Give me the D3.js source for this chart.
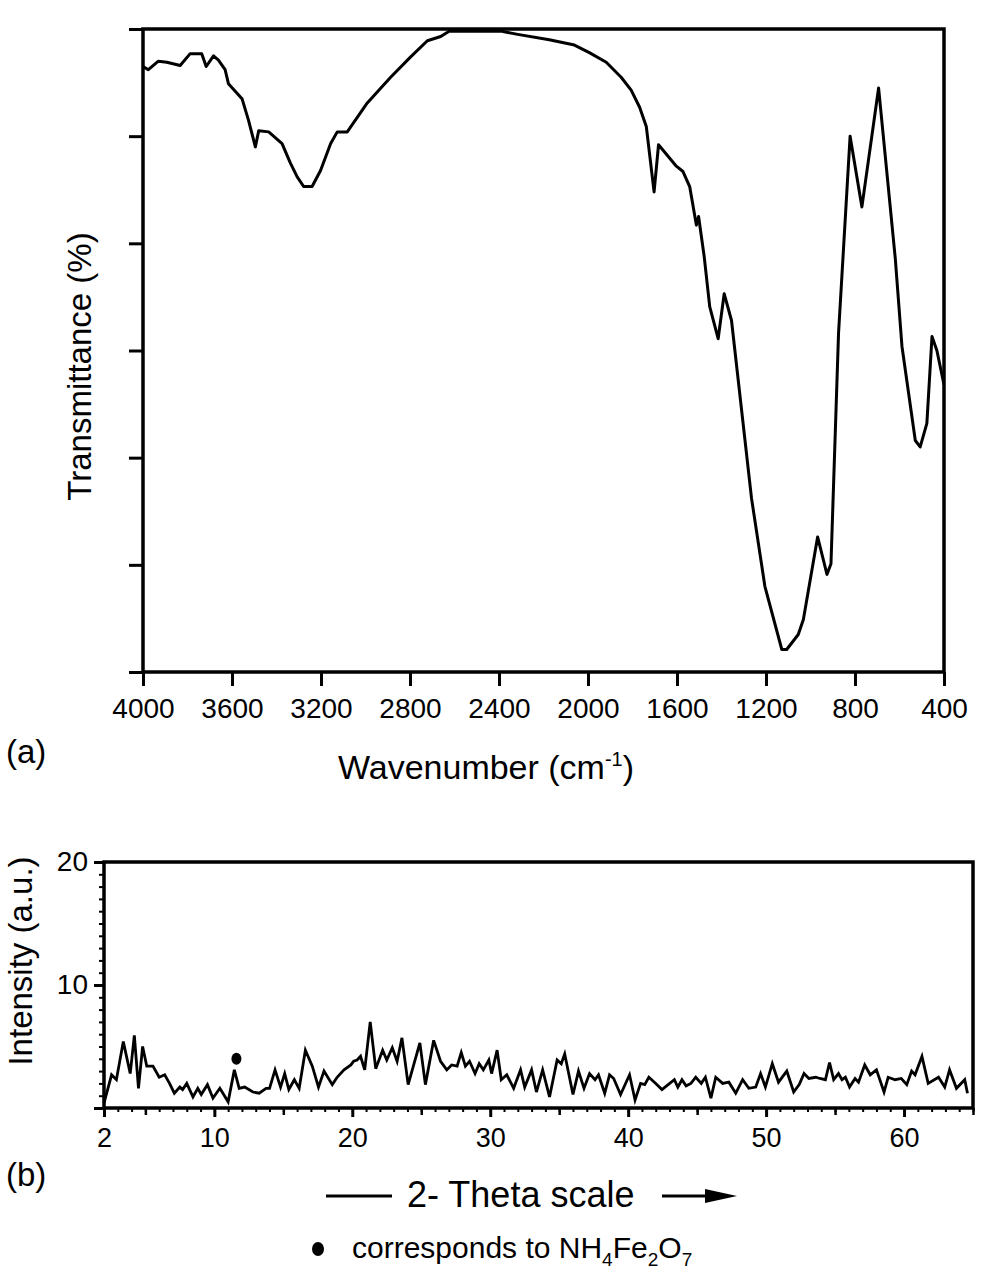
<!DOCTYPE html>
<html>
<head>
<meta charset="utf-8">
<script src="https://cdn.jsdelivr.net/npm/d3@7/dist/d3.min.js"></script>
<style>
  body { margin: 0; background: #fff; }
  svg { display: block; }
  text { font-family: "Liberation Sans", Arial, Helvetica, sans-serif; fill: #000; }
</style>
</head>
<body>
<div id="chart"></div>
<script>
// (a) IR spectrum
const IR_WAVENUMBER = [4000, 3976, 3931, 3893, 3833, 3788, 3736, 3716, 3683, 3661, 3631, 3616, 3555, 3526,
  3495, 3480, 3435, 3375, 3338, 3307, 3278, 3240, 3202, 3157, 3127, 3082, 2992, 2887, 2797, 2722, 2662,
  2624, 2392, 2316, 2174, 2061, 1994, 1918, 1851, 1806, 1768, 1738, 1703, 1683, 1603, 1573, 1543, 1513,
  1503, 1478, 1453, 1415, 1388, 1355, 1265, 1205, 1129, 1107, 1055, 1032, 968, 926, 908, 874, 822, 769,
  694, 619, 589, 529, 507, 477, 454, 432, 400];
const IR_TRANSMITTANCE = [56.5, 56.2, 57.0, 56.9, 56.6, 57.7, 57.7, 56.5, 57.5, 57.1, 56.2, 54.9, 53.5, 51.5,
  49.0, 50.5, 50.4, 49.3, 47.5, 46.2, 45.3, 45.3, 46.8, 49.3, 50.4, 50.4, 53.1, 55.5, 57.4, 58.9, 59.3,
  59.8, 59.8, 59.5, 59.0, 58.5, 57.8, 56.9, 55.5, 54.3, 52.7, 50.9, 44.8, 49.2, 47.2, 46.7, 45.3, 41.7,
  42.5, 38.8, 34.1, 31.1, 35.3, 32.8, 16.2, 8.0, 2.1, 2.1, 3.5, 4.9, 12.6, 9.1, 10.1, 31.6, 50.0, 43.4,
  54.5, 38.6, 30.4, 21.6, 21.0, 23.2, 31.3, 30.0, 26.8];
const IR_X_TICKS = [4000, 3600, 3200, 2800, 2400, 2000, 1600, 1200, 800, 400];
const IR_Y_TICKS = [0, 10, 20, 30, 40, 50, 60];

// (b) XRD pattern
const XRD_THETA = [2.0, 2.55, 2.9, 3.4, 3.9, 4.2, 4.5, 4.8, 5.1, 5.55, 6.0, 6.4, 6.75, 7.1, 7.5, 7.7, 8.0,
  8.45, 8.8, 9.05, 9.5, 9.9, 10.4, 11.0, 11.45, 11.8, 12.2, 12.8, 13.25, 13.75, 14.0, 14.4, 14.8, 15.1,
  15.4, 15.8, 16.15, 16.6, 17.1, 17.55, 17.95, 18.55, 18.9, 19.4, 19.9, 20.1, 20.35, 20.6, 20.9, 21.3,
  21.7, 22.2, 22.5, 22.9, 23.25, 23.6, 24.05, 24.9, 25.3, 25.9, 26.4, 26.85, 27.2, 27.6, 27.9, 28.2, 28.5,
  28.9, 29.2, 29.5, 29.9, 30.1, 30.5, 30.8, 31.2, 31.7, 32.2, 32.5, 33.0, 33.35, 33.8, 34.3, 34.85,
  35.15, 35.4, 36.0, 36.4, 36.8, 37.2, 37.6, 37.85, 38.3, 38.65, 38.95, 39.45, 40.1, 40.5, 40.9, 41.2,
  41.5, 42.0, 42.45, 42.9, 43.35, 43.6, 43.9, 44.2, 44.55, 44.9, 45.3, 45.6, 46.0, 46.35, 46.85, 47.3,
  47.8, 48.3, 48.75, 49.25, 49.6, 49.95, 50.45, 50.9, 51.5, 52.0, 52.4, 52.75, 53.1, 53.6, 53.9, 54.3,
  54.6, 54.9, 55.25, 55.5, 55.75, 56.05, 56.45, 56.7, 57.15, 57.55, 58.0, 58.55, 58.85, 59.35, 59.8,
  60.2, 60.55, 60.8, 61.3, 61.75, 62.5, 62.95, 63.3, 63.8, 64.4, 64.6];
const XRD_INTENSITY = [0.4, 2.7, 2.3, 5.4, 2.8, 5.9, 1.6, 5.0, 3.4, 3.4, 2.5, 2.7, 2.0, 1.2, 1.7, 1.5, 2.0,
  0.9, 1.6, 1.1, 1.9, 0.8, 1.6, 0.5, 3.1, 1.6, 1.7, 1.3, 1.2, 1.6, 1.6, 3.1, 1.7, 2.8,
  1.5, 2.3, 1.6, 4.7, 3.4, 1.7, 3.0, 1.9, 2.5, 3.1, 3.5, 3.8, 3.9, 4.2, 3.1, 7.0,
  3.2, 4.7, 3.9, 4.9, 3.8, 5.7, 1.9, 5.3, 1.9, 5.5, 3.8, 3.1, 3.5, 3.4, 4.5, 3.4, 3.8,
  2.8, 3.6, 3.1, 3.9, 2.8, 4.7, 2.3, 2.7, 1.6, 3.1, 1.7, 3.1, 1.3, 3.1, 0.9, 3.9,
  3.6, 4.4, 1.1, 3.0, 1.6, 2.8, 2.3, 2.7, 1.2, 2.7, 2.4, 1.1, 2.7, 0.65, 2.0, 1.9,
  2.5, 2.0, 1.5, 1.9, 2.3, 1.7, 2.3, 1.8, 2.0, 2.5, 2.0, 2.5, 0.8, 2.5, 2.0, 2.1,
  1.2, 2.3, 1.6, 1.7, 2.8, 1.7, 3.6, 2.1, 3.0, 1.3, 1.9, 2.8, 2.4, 2.5, 2.4, 2.3,
  3.7, 2.3, 2.8, 2.3, 2.5, 1.7, 2.4, 2.1, 3.5, 2.7, 3.1, 1.3, 2.5, 2.3, 2.4,
  1.9, 3.0, 2.7, 4.2, 2.0, 2.5, 1.7, 3.1, 1.6, 2.3, 1.2];
const XRD_X_TICKS = [2, 10, 20, 30, 40, 50, 60];
const XRD_Y_TICKS = [0, 10, 20];
const PHASE_MARKS = [{ theta: 11.6, intensity: 4.0 }];

const W = 1002, H = 1275;
const FONT_TICK = 28, FONT_TITLE = 33;

const svg = d3.select("#chart").append("svg")
  .attr("width", W).attr("height", H);

svg.append("rect").attr("width", W).attr("height", H).attr("fill", "#fff");

const styleAxis = sel => {
  sel.select(".domain").remove();
  sel.selectAll(".tick line").attr("stroke", "#000").attr("stroke-width", 3);
  sel.selectAll("text").attr("fill", "#000").attr("font-family", null);
};

// ---------- (a) IR ----------
const irBox = { left: 143, right: 944, top: 29, bottom: 672 };
const irX = d3.scaleLinear().domain([4000, 400]).range([irBox.left, irBox.right]);
const irY = d3.scaleLinear().domain([0, 60]).range([irBox.bottom, irBox.top]);

const gA = svg.append("g").attr("class", "panelA");

gA.append("defs").append("clipPath").attr("id", "clipA")
  .append("rect")
  .attr("x", irBox.left).attr("y", irBox.top - 2)
  .attr("width", irBox.right - irBox.left).attr("height", irBox.bottom - irBox.top + 4);

gA.append("g")
  .attr("transform", `translate(0,${irBox.bottom})`)
  .call(d3.axisBottom(irX).tickValues(IR_X_TICKS).tickSize(14).tickPadding(12).tickFormat(d3.format("d")))
  .call(styleAxis)
  .selectAll("text").style("font-size", FONT_TICK + "px");

gA.append("g")
  .attr("transform", `translate(${irBox.left},0)`)
  .call(d3.axisLeft(irY).tickValues(IR_Y_TICKS).tickSize(14).tickFormat(""))
  .call(styleAxis);

const irPts = IR_WAVENUMBER.map((w, i) => [w, IR_TRANSMITTANCE[i]]);
gA.append("path")
  .datum(irPts)
  .attr("clip-path", "url(#clipA)")
  .attr("fill", "none")
  .attr("stroke", "#000")
  .attr("stroke-width", 3)
  .attr("stroke-linejoin", "round")
  .attr("d", d3.line().x(d => irX(d[0])).y(d => irY(d[1])));

gA.append("rect")
  .attr("x", irBox.left).attr("y", irBox.top)
  .attr("width", irBox.right - irBox.left).attr("height", irBox.bottom - irBox.top)
  .attr("fill", "none").attr("stroke", "#000").attr("stroke-width", 3.5);

gA.append("text")
  .attr("transform", `translate(91,${(irBox.top + irBox.bottom) / 2 + 16}) rotate(-90)`)
  .attr("text-anchor", "middle")
  .style("font-size", FONT_TITLE + "px")
  .text("Transmittance (%)");

const wn = gA.append("text")
  .attr("x", 486).attr("y", 779)
  .attr("text-anchor", "middle")
  .style("font-size", "34px");
wn.append("tspan").text("Wavenumber (cm");
wn.append("tspan").attr("dy", -13).style("font-size", "20px").text("-1");
wn.append("tspan").attr("dy", 13).text(")");

gA.append("text").attr("x", 6).attr("y", 763)
  .style("font-size", FONT_TITLE + "px").text("(a)");

// ---------- (b) XRD ----------
const xrdBox = { left: 104, right: 973, top: 862, bottom: 1108 };
const xrdX = d3.scaleLinear().domain([2, 65]).range([xrdBox.left, xrdBox.right]);
const xrdY = d3.scaleLinear().domain([0, 20]).range([xrdBox.bottom, xrdBox.top]);

const gB = svg.append("g").attr("class", "panelB");

// minor / mid / major ticks on 2-theta axis
gB.append("g").attr("transform", `translate(0,${xrdBox.bottom})`)
  .call(d3.axisBottom(xrdX).tickValues(d3.range(2, 66, 1)).tickSize(4).tickFormat(""))
  .call(styleAxis)
  .selectAll(".tick line").attr("stroke-width", 2);
gB.append("g").attr("transform", `translate(0,${xrdBox.bottom})`)
  .call(d3.axisBottom(xrdX).tickValues(d3.range(5, 66, 10)).tickSize(7).tickFormat(""))
  .call(styleAxis)
  .selectAll(".tick line").attr("stroke-width", 2.5);
gB.append("g").attr("transform", `translate(0,${xrdBox.bottom})`)
  .call(d3.axisBottom(xrdX).tickValues(XRD_X_TICKS).tickSize(9).tickPadding(11).tickFormat(d3.format("d")))
  .call(styleAxis)
  .selectAll("text").style("font-size", "27px");

gB.append("g").attr("transform", `translate(${xrdBox.left},0)`)
  .call(d3.axisLeft(xrdY).tickValues(d3.range(0, 21, 1)).tickSize(5).tickFormat(""))
  .call(styleAxis)
  .selectAll(".tick line").attr("stroke-width", 2);
gB.append("g").attr("transform", `translate(${xrdBox.left},0)`)
  .call(d3.axisLeft(xrdY).tickValues(XRD_Y_TICKS).tickSize(10).tickPadding(6)
    .tickFormat(d => d === 0 ? "" : d))
  .call(styleAxis)
  .selectAll("text").style("font-size", "28px");

const xrdPts = XRD_THETA.map((t, i) => [t, XRD_INTENSITY[i]]);
gB.append("path")
  .datum(xrdPts)
  .attr("fill", "none")
  .attr("stroke", "#000")
  .attr("stroke-width", 2.8)
  .attr("stroke-linejoin", "miter")
  .attr("d", d3.line().x(d => xrdX(d[0])).y(d => xrdY(d[1])));

gB.selectAll(".phase").data(PHASE_MARKS).join("ellipse")
  .attr("class", "phase")
  .attr("cx", d => xrdX(d.theta)).attr("cy", d => xrdY(d.intensity))
  .attr("rx", 5).attr("ry", 6).attr("fill", "#000");

gB.append("rect")
  .attr("x", xrdBox.left).attr("y", xrdBox.top)
  .attr("width", xrdBox.right - xrdBox.left).attr("height", xrdBox.bottom - xrdBox.top)
  .attr("fill", "none").attr("stroke", "#000").attr("stroke-width", 3.5);

gB.append("text")
  .attr("transform", `translate(32,${(xrdBox.top + xrdBox.bottom) / 2 - 24}) rotate(-90)`)
  .attr("text-anchor", "middle")
  .style("font-size", FONT_TITLE + "px")
  .text("Intensity (a.u.)");

gB.append("text").attr("x", 6).attr("y", 1186)
  .style("font-size", FONT_TITLE + "px").text("(b)");

// 2-theta direction note
gB.append("line").attr("x1", 326).attr("x2", 392).attr("y1", 1196).attr("y2", 1196)
  .attr("stroke", "#000").attr("stroke-width", 3);
gB.append("text").attr("x", 407).attr("y", 1207)
  .style("font-size", "36px").text("2- Theta scale");
gB.append("line").attr("x1", 662).attr("x2", 712).attr("y1", 1196).attr("y2", 1196)
  .attr("stroke", "#000").attr("stroke-width", 3);
gB.append("path").attr("d", "M705,1189 L737,1196 L705,1203 Z").attr("fill", "#000");

// legend for marker
gB.append("ellipse").attr("cx", 318).attr("cy", 1249).attr("rx", 6).attr("ry", 7).attr("fill", "#000");
const lg = gB.append("text").attr("x", 352).attr("y", 1258).style("font-size", "30px");
lg.append("tspan").text("corresponds to NH");
lg.append("tspan").attr("dy", 8).style("font-size", "19px").text("4");
lg.append("tspan").attr("dy", -8).text("Fe");
lg.append("tspan").attr("dy", 8).style("font-size", "19px").text("2");
lg.append("tspan").attr("dy", -8).text("O");
lg.append("tspan").attr("dy", 8).style("font-size", "19px").text("7");
</script>
</body>
</html>
